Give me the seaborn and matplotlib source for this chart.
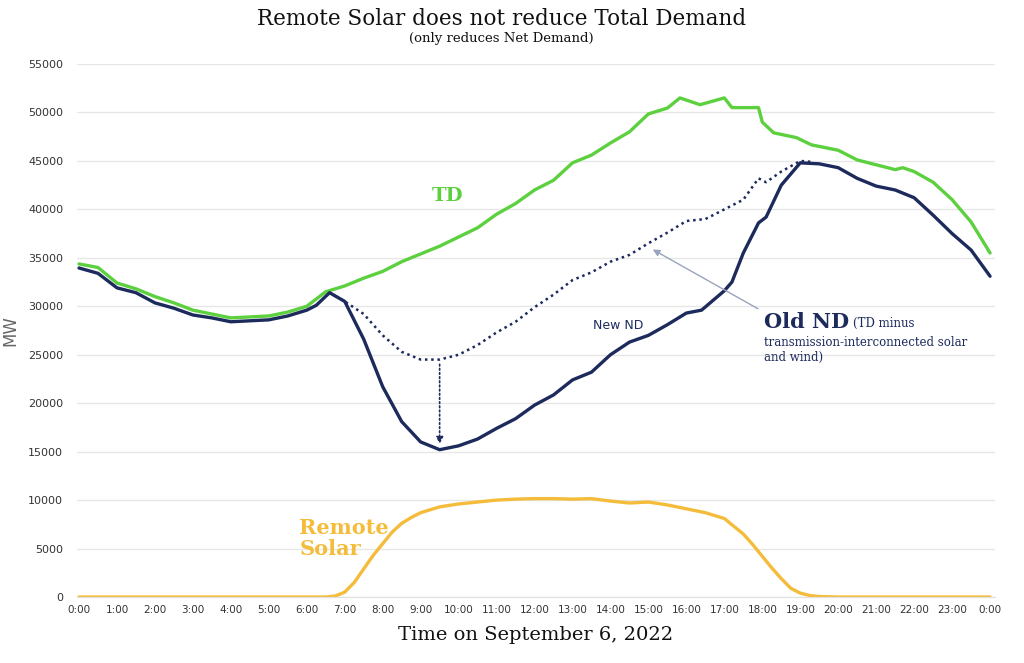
import numpy as np
import pandas as pd
import matplotlib
matplotlib.use("Agg")
import matplotlib.pyplot as plt
import seaborn as sns

# ---------------- data ----------------
td_hours = [0, 0.5, 1, 1.5, 2, 2.5, 3, 3.5, 4, 4.5, 5, 5.5, 6, 6.5, 7, 7.5, 8, 8.5,
            9, 9.5, 10, 10.5, 11, 11.5, 12, 12.5, 13, 13.5, 14, 14.5, 15, 15.5, 15.83,
            16.36, 17, 17.2, 17.9, 18.0, 18.3, 18.9, 19.3, 20, 20.5, 21,
            21.5, 21.7, 22, 22.5, 23, 23.5, 24]
td_mw = [34370, 34000, 32400, 31800, 31000, 30350, 29600, 29200, 28800, 28900,
         29000, 29400, 30000, 31500, 32100, 32900, 33600, 34600, 35400, 36200,
         37150, 38100, 39500, 40600, 42000, 43000, 44800, 45600, 46850, 48000,
         49850, 50450, 51500, 50800, 51500, 50500, 50500, 49000, 47900, 47400,
         46650, 46100, 45100, 44600, 44100, 44300, 43900, 42800, 41000, 38700, 35500]

nd_hours = [0, 0.5, 1, 1.5, 2, 2.5, 3, 3.5, 4, 4.5, 5, 5.5, 6, 6.25, 6.6, 7,
            7.5, 8, 8.5, 9, 9.5, 10, 10.5, 11, 11.5, 12, 12.5, 13, 13.5, 14, 14.5,
            15, 15.5, 16, 16.4, 17, 17.2, 17.5, 17.9, 18.1, 18.5, 19, 19.5, 20, 20.5,
            21, 21.5, 22, 22.5, 23, 23.5, 24]
new_nd_mw = [33950, 33400, 31900, 31400, 30350, 29800, 29100, 28800, 28400, 28500,
             28600, 29000, 29600, 30100, 31400, 30500, 26600, 21700, 18100, 16000,
             15200, 15600, 16300, 17400, 18400, 19800, 20850, 22400, 23200, 25000,
             26300, 27000, 28100, 29300, 29600, 31600, 32500, 35500, 38600, 39200,
             42500, 44800, 44700, 44300, 43200, 42400, 42000, 41200, 39400, 37500,
             35800, 33100]

old_hours = [6.6, 7, 7.5, 8, 8.5, 9, 9.5, 10, 10.5, 11, 11.5, 12, 12.5, 13,
             13.5, 14, 14.5, 15, 15.5, 16, 16.5, 17, 17.5, 17.9, 18.1, 18.5, 19, 19.3]
old_nd_mw = [31400, 30500, 29200, 27000, 25300, 24500, 24500, 25000, 26000, 27300,
             28400, 29900, 31200, 32700, 33500, 34600, 35300, 36500, 37600, 38800,
             39000, 40000, 41000, 43200, 42800, 43900, 45000, 44900]

solar_hours = [0, 1, 2, 3, 4, 5, 6, 6.5, 6.75, 7, 7.25, 7.5, 7.75, 8, 8.25, 8.5, 8.75,
               9, 9.5, 10, 10.5, 11, 11.5, 12, 12.5, 13, 13.5, 14, 14.5, 15, 15.5, 16,
               16.5, 17, 17.5, 17.75, 18, 18.25, 18.5, 18.75, 19, 19.25, 19.5, 20,
               21, 22, 23, 24]
solar_mw = [0, 0, 0, 0, 0, 0, 0, 0, 100, 500, 1500, 2900, 4300, 5500, 6700, 7600,
            8200, 8700, 9300, 9600, 9800, 10000, 10100, 10150, 10150, 10100, 10150,
            9900, 9700, 9800, 9500, 9100, 8700, 8100, 6500, 5400, 4200, 3000, 1900,
            900, 400, 150, 50, 0, 0, 0, 0, 0]

x_tick_labels = [f"{h % 24}:00" for h in range(25)]
y_ticks = list(range(0, 55001, 5000))

# ---------------- style ----------------
sns.set_theme(style="white")
plt.rcParams["font.family"] = ["DejaVu Sans"]

GREEN = "#5CD03E"
NAVY = "#1C2A5C"
GOLD = "#F4BC3A"
SERIF = "DejaVu Serif"

fig = plt.figure(figsize=(10.24, 6.63), dpi=100)
ax = fig.add_axes([77 / 1024, 1 - 597 / 663, (995 - 77) / 1024, (597 - 64) / 663])

sns.lineplot(x=td_hours, y=td_mw, ax=ax, color=GREEN, lw=2.4)
sns.lineplot(x=nd_hours, y=new_nd_mw, ax=ax, color=NAVY, lw=2.4)
sns.lineplot(x=old_hours, y=old_nd_mw, ax=ax, color=NAVY, lw=1.8, linestyle=(0, (1, 1.5)))
sns.lineplot(x=solar_hours, y=solar_mw, ax=ax, color=GOLD, lw=2.4)

ax.set_xlim(-0.053, 24.13)
ax.set_ylim(0, 55000)
ax.set_yticks(y_ticks)
ax.set_yticklabels([str(v) for v in y_ticks], fontsize=8, color="#333333")
ax.set_xticks(range(25))
ax.set_xticklabels(x_tick_labels, fontsize=7.5, color="#333333")
ax.tick_params(axis="both", length=0, pad=6)
ax.tick_params(axis="y", pad=10)
ax.grid(axis="y", color="#e6e6e6", lw=0.9)
ax.set_axisbelow(True)
for s in ["top", "right", "left"]:
    ax.spines[s].set_visible(False)
ax.spines["bottom"].set_color("#e0e0e0")
ax.spines["bottom"].set_linewidth(0.9)

ax.set_ylabel("MW", fontsize=12, color="#666666", labelpad=6)
ax.set_xlabel("Time on September 6, 2022", fontsize=14, family=SERIF, color="#111111", labelpad=8)

fig.text(0.49, 0.972, "Remote Solar does not reduce Total Demand", ha="center", va="center",
         fontsize=15.5, family=SERIF, color="#111111")
fig.text(0.49, 0.942, "(only reduces Net Demand)", ha="center", va="center",
         fontsize=9.5, family=SERIF, color="#111111")

# annotations
ax.text(9.7, 41400, "TD", color=GREEN, fontsize=14, fontweight="bold", family=SERIF,
        ha="center", va="center")
ax.text(14.2, 28000, "New ND", color=NAVY, fontsize=9, ha="center", va="center")
ax.text(18.05, 28350, "Old ND", color=NAVY, fontsize=15, fontweight="bold", family=SERIF,
        ha="left", va="center")
ax.text(20.4, 28200, "(TD minus", color=NAVY, fontsize=8.5, family=SERIF, ha="left", va="center")
ax.text(18.05, 26300, "transmission-interconnected solar", color=NAVY, fontsize=8.5,
        family=SERIF, ha="left", va="center")
ax.text(18.05, 24700, "and wind)", color=NAVY, fontsize=8.5, family=SERIF, ha="left", va="center")
ax.annotate("", xy=(15.05, 36000), xytext=(17.95, 29600),
            arrowprops=dict(arrowstyle="-|>", color="#9aa3bd", lw=1.0, mutation_scale=10))
ax.annotate("", xy=(9.5, 15500), xytext=(9.5, 24300),
            arrowprops=dict(arrowstyle="-|>", color=NAVY, lw=1.2, linestyle=(0, (1, 1.5)),
                            mutation_scale=10))
ax.text(5.8, 6000, "Remote\nSolar", color=GOLD, fontsize=15, fontweight="bold", family=SERIF,
        ha="left", va="center", linespacing=1.05)

fig.savefig("out.png", dpi=100)
